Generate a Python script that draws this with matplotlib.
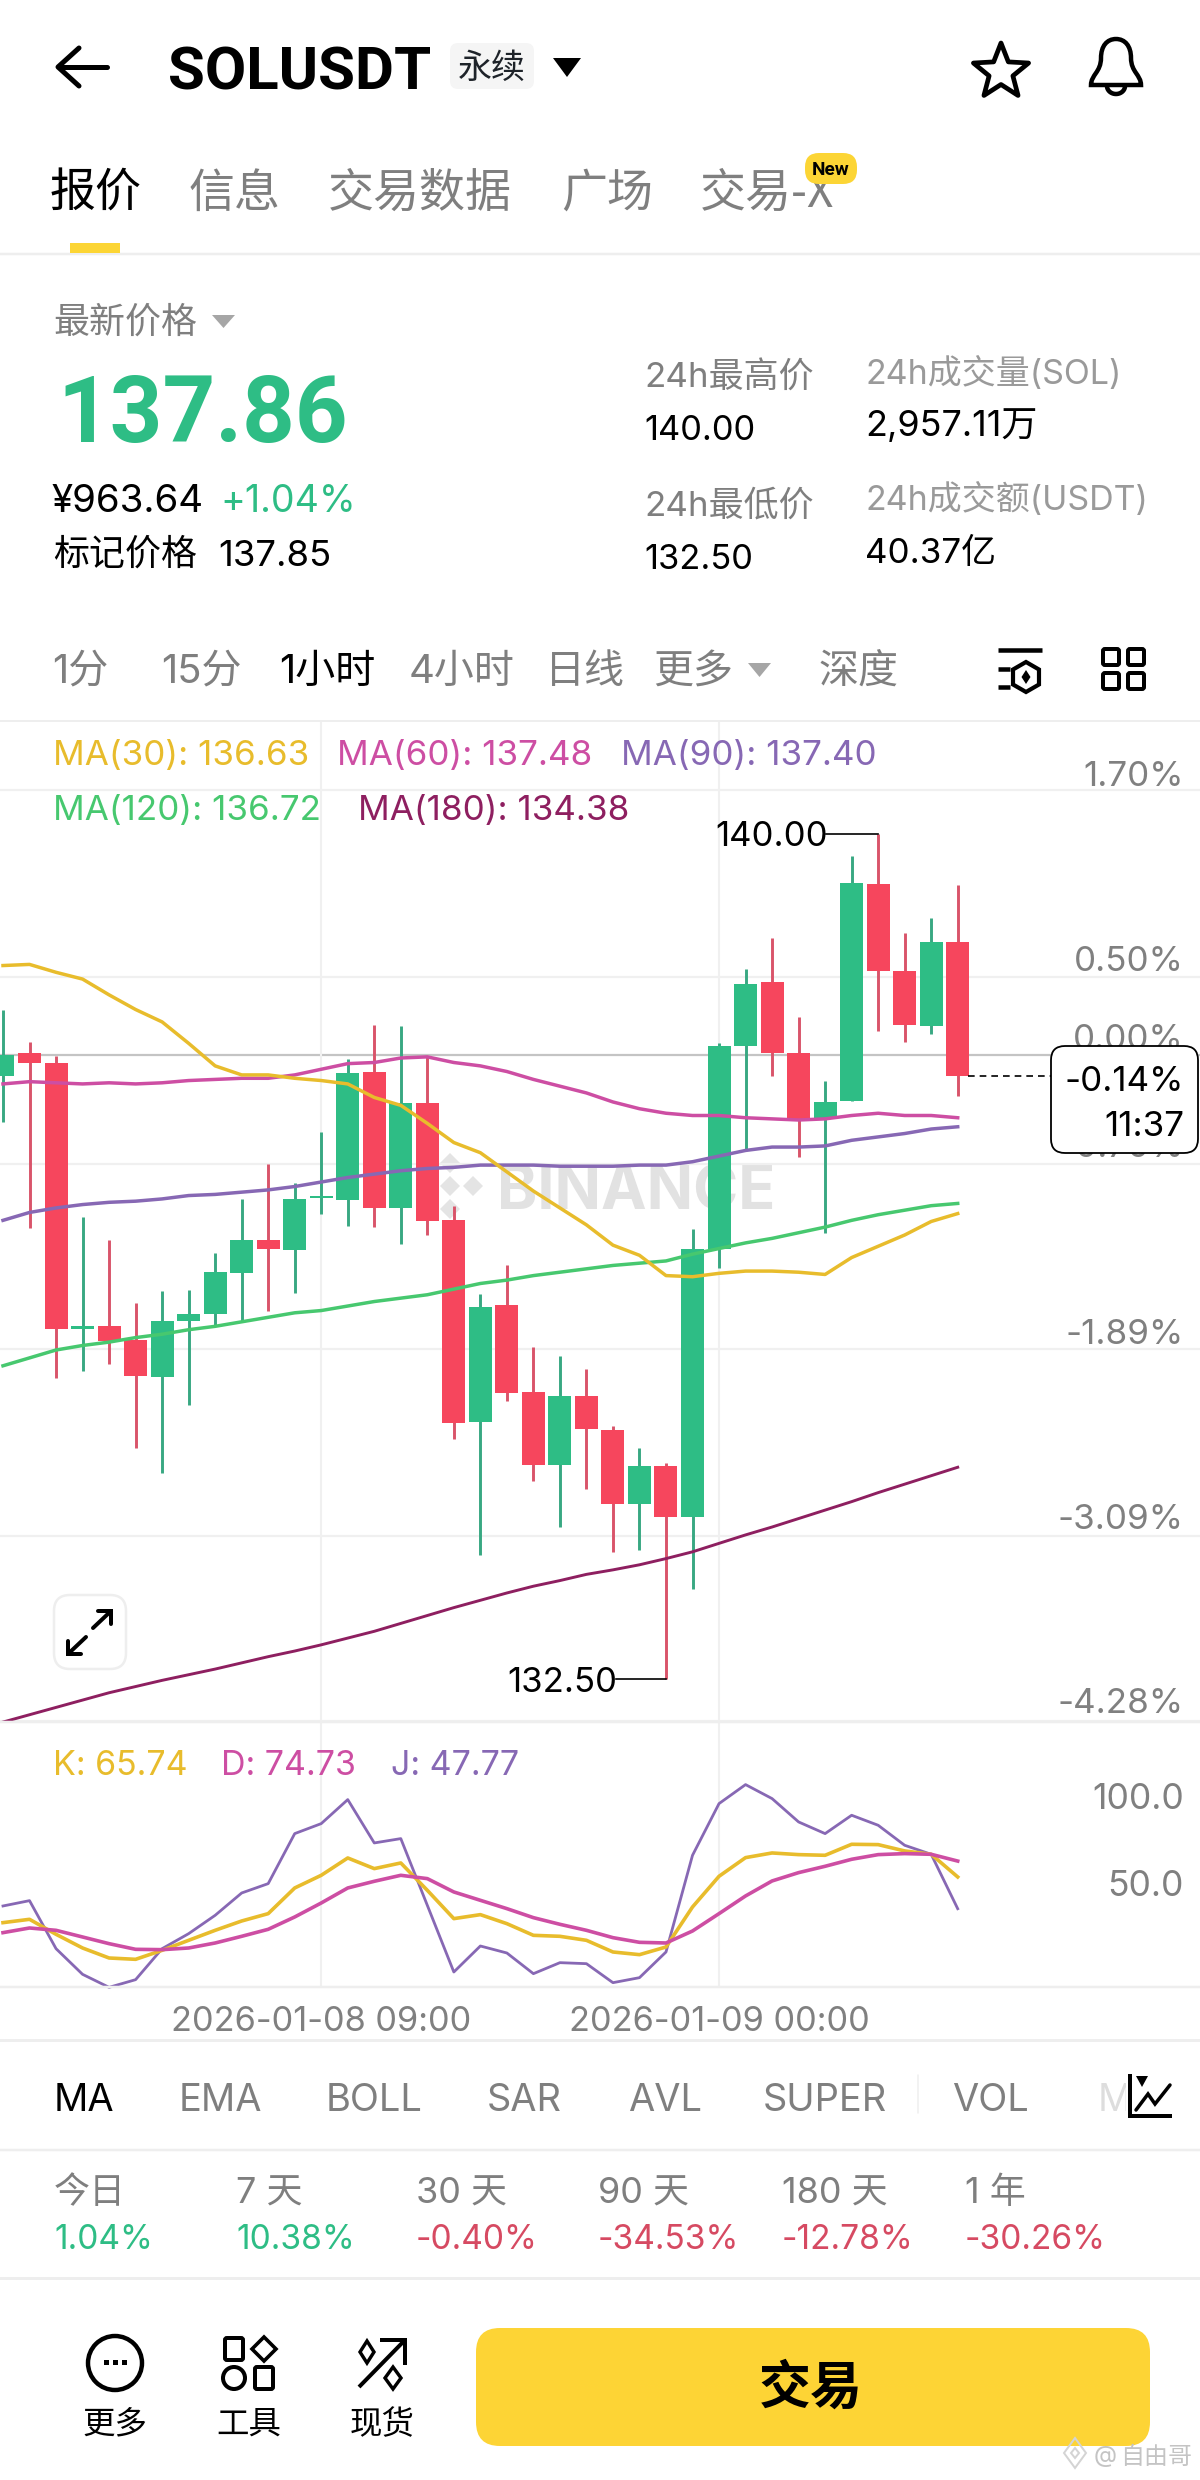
import numpy as np
import matplotlib
matplotlib.use("Agg")
import matplotlib.pyplot as plt
from matplotlib.patches import FancyBboxPatch, Polygon, Circle, PathPatch, Rectangle
from matplotlib.path import Path

# ---------- data ----------
opens  = [137.85,138.05,137.97,135.61,135.63,135.51,135.18,135.68,135.74,136.10,136.40,136.31,136.77,136.75,137.89,136.68,137.61,136.57,134.78,135.82,135.05,134.40,135.01,134.71,134.05,134.39,133.94,136.32,138.12,138.68,138.05,137.48,137.63,139.55,138.78,138.29,139.04]
highs  = [138.44,138.15,138.03,136.60,136.40,135.84,135.94,135.95,136.28,136.76,137.07,136.90,137.35,138.00,138.30,138.29,138.03,136.70,135.92,136.17,135.45,135.37,135.25,134.75,134.55,134.42,136.49,138.14,138.80,139.07,138.37,137.81,139.80,140.00,139.12,139.25,139.54]
lows   = [137.44,136.50,135.17,135.23,135.30,134.55,134.33,134.93,135.63,135.67,135.77,135.93,136.63,136.52,136.51,136.36,136.44,134.63,133.60,134.97,134.26,133.85,134.19,133.63,133.65,132.50,133.30,136.15,137.19,137.85,137.13,136.46,137.63,138.25,138.15,138.22,137.67]
closes = [138.04,137.97,135.61,135.63,135.50,135.19,135.68,135.74,136.11,136.40,136.32,136.76,136.79,137.88,136.68,137.61,136.56,134.77,135.80,135.04,134.40,135.01,134.72,134.05,134.39,133.94,136.32,138.12,138.67,138.05,137.47,137.62,139.56,138.78,138.30,139.04,137.85]

ma30  = [138.83,138.84,138.77,138.71,138.57,138.44,138.33,138.14,137.94,137.86,137.86,137.83,137.81,137.78,137.66,137.59,137.43,137.26,137.17,137.00,136.83,136.68,136.53,136.35,136.26,136.08,136.07,136.10,136.12,136.12,136.11,136.09,136.24,136.34,136.44,136.56,136.63]
ma60  = [137.78,137.80,137.79,137.78,137.79,137.78,137.79,137.81,137.82,137.83,137.83,137.86,137.91,137.96,137.97,138.01,138.02,137.97,137.94,137.89,137.82,137.76,137.70,137.62,137.56,137.52,137.50,137.50,137.48,137.47,137.46,137.47,137.50,137.52,137.50,137.50,137.48]
ma90  = [136.57,136.64,136.68,136.71,136.73,136.74,136.76,136.79,136.80,136.82,136.84,136.87,136.91,136.95,136.98,137.01,137.03,137.04,137.06,137.06,137.06,137.05,137.05,137.05,137.06,137.06,137.09,137.14,137.19,137.22,137.22,137.23,137.28,137.31,137.34,137.38,137.40]
ma120 = [135.28,135.35,135.42,135.46,135.49,135.53,135.56,135.60,135.63,135.67,135.71,135.75,135.77,135.81,135.85,135.88,135.91,135.96,136.01,136.04,136.08,136.11,136.14,136.17,136.19,136.21,136.27,136.32,136.37,136.41,136.46,136.51,136.57,136.62,136.66,136.70,136.72]
ma180 = [132.12,132.185,132.25,132.315,132.38,132.435,132.49,132.54,132.59,132.645,132.70,132.75,132.805,132.865,132.925,132.995,133.065,133.135,133.20,133.265,133.325,133.375,133.43,133.47,133.515,133.57,133.63,133.705,133.78,133.85,133.925,134.00,134.075,134.155,134.23,134.305,134.38]

kdj_k = [39.89,41.78,33.29,25.55,19.89,19.14,24.23,29.89,35.55,40.83,44.99,59.51,66.68,76.49,70.46,73.66,58.19,42.16,44.42,39.32,32.72,32.16,29.89,23.29,21.78,26.12,48.76,66.12,76.68,79.32,78.38,78.00,84.23,84.04,80.46,78.57,65.74]
kdj_d = [34.23,36.87,35.55,31.78,28.00,24.80,24.61,25.55,28.38,32.16,36.12,43.10,51.02,59.51,63.29,66.68,64.80,57.25,52.53,47.82,42.72,38.95,35.55,31.40,28.76,28.38,35.17,44.99,54.99,63.48,68.19,71.78,75.74,78.38,78.95,78.57,74.73]
kdj_j = [49.32,52.34,25.17,10.65,3.29,7.63,25.17,33.66,44.04,56.68,61.97,90.27,95.93,109.51,84.99,87.44,49.70,11.97,26.68,22.72,11.02,17.25,16.68,5.93,8.76,23.29,78.00,107.25,118.00,110.08,96.87,90.27,100.65,94.99,83.66,78.57,47.77]

base_price = 138.04
pct_grid = [1.70, 0.50, -0.70, -1.89, -3.09, -4.28]
pct_labels = ["1.70%", "0.50%", "0.00%", "-0.70%", "-1.89%", "-3.09%", "-4.28%"]
kdj_labels = ["100.0", "50.0"]
date_idx = [12, 27]
date_labels = ["2026-01-08 09:00", "2026-01-09 00:00"]
indicators = ["MA", "EMA", "BOLL", "SAR", "AVL", "SUPER", "VOL", "M"]
periods = ["今日", "7 天", "30 天", "90 天", "180 天", "1 年"]
period_vals = ["1.04%", "10.38%", "-0.40%", "-34.53%", "-12.78%", "-30.26%"]

# ---------- style ----------
GREEN, RED = "#2ebd85", "#f6465d"
GREEN_W, RED_W = "#38a882", "#d9546a"
RED_TXT = "#d64a62"
GREY = "#7f7f7f"
LGREY = "#9a9a9a"
GRID = "#f0f0f0"
YEL = "#fcd535"
C30, C60, C90, C120, C180 = "#e8bc2c", "#cd4ea3", "#8768b4", "#47c86f", "#8e1f60"
INK = "#000000"
FAM = ["Inter", "Noto Sans CJK SC", "DejaVu Sans"]
BOLD = ["Roboto", "Noto Sans CJK SC", "DejaVu Sans"]
CJK = ["Noto Sans CJK SC", "DejaVu Sans"]

W, H = 1200, 2480
fig = plt.figure(figsize=(W / 100, H / 100), dpi=100, facecolor="white")


def pixel_axes(z):
    a = fig.add_axes([0, 0, 1, 1], zorder=z)
    a.set_xlim(0, W)
    a.set_ylim(H, 0)
    a.axis("off")
    a.patch.set_alpha(0)
    return a


under = pixel_axes(0)
ui = pixel_axes(5)


def T(x, yc, s, px, color=INK, ha="left", fam=FAM, weight="normal", a=None, z=3):
    (a or ui).text(x, yc + 0.365 * px, s, fontsize=px * 0.72, color=color, ha=ha, va="baseline",
                   family=fam, fontweight=weight, zorder=z)


def L(xs_, ys_, px=4, color=INK, a=None, z=3, cap="round", join="round"):
    (a or ui).plot(xs_, ys_, lw=px * 0.72, color=color, zorder=z, solid_capstyle=cap, solid_joinstyle=join)


def RR(x0, y0, x1, y1, r, fc="none", ec="none", px=0, z=2, a=None):
    (a or ui).add_patch(FancyBboxPatch((x0 + r, y0 + r), x1 - x0 - 2 * r, y1 - y0 - 2 * r,
                                       boxstyle=f"round,pad={r},rounding_size={r}",
                                       fc=fc, ec=ec, lw=px * 0.72, zorder=z))


def diamond(cx, cy, rx, ry, fc="none", ec=INK, px=3.5, z=3, a=None):
    (a or ui).add_patch(Polygon([(cx, cy - ry), (cx + rx, cy), (cx, cy + ry), (cx - rx, cy)], closed=True,
                                fc=fc, ec=ec, lw=px * 0.72, zorder=z, joinstyle="miter"))


def tri(x0, x1, y0, y1, color):
    ui.add_patch(Polygon([(x0, y0), (x1, y0), ((x0 + x1) / 2, y1)], closed=True, fc=color, ec="none", zorder=3))


# ---------- watermark under the candles ----------
for dx, dy, r in [(0, 0, 10), (-23, 0, 10), (23, 0, 10), (0, -23, 10), (0, 23, 10)]:
    diamond(450 + dx, 1186 + dy, r, r, fc="#e4e4e4", ec="none", px=0, a=under)
under.text(497, 1209, "BINANCE", fontsize=44, fontweight="bold", color="#e2e2e2", family=["Inter", "Roboto"], va="baseline", zorder=1)

# ---------- main chart ----------
ax = fig.add_axes([0, 1 - 1721.5 / H, 1, (1721.5 - 721) / H], zorder=1)
ax.patch.set_alpha(0)
ax.set_xlim(-0.113, 45.136)
ax.set_ylim(132.125, 140.999)
ax.axis("off")
xs = np.arange(len(opens))
o_, c_, h_, l_ = map(np.array, (opens, closes, highs, lows))
up = c_ >= o_
for mask, body, wick in ((up, GREEN, GREEN_W), (~up, RED, RED_W)):
    ax.vlines(xs[mask], l_[mask], h_[mask], color=wick, lw=2.1, zorder=3, capstyle="butt")
    ax.bar(xs[mask], np.maximum(np.abs(c_ - o_)[mask], 0.02), bottom=np.minimum(o_, c_)[mask],
           width=0.867, color=body, zorder=4, linewidth=0)
for p in pct_grid:
    ax.axhline(base_price * (1 + p / 100), color=GRID, lw=1.6, zorder=1)
ax.axhline(base_price, color="#c4c4c4", lw=1.6, zorder=1)
for i in date_idx:
    ax.axvline(i, color=GRID, lw=1.5, zorder=1)
for series, col, w in ((ma180, C180, 2.1), (ma120, C120, 2.5), (ma90, C90, 2.5), (ma60, C60, 2.5), (ma30, C30, 2.5)):
    ax.plot(xs, series, color=col, lw=w, zorder=5, solid_joinstyle="round")
# high / low callouts
hi_i = int(np.argmax(highs))
lo_i = int(np.argmin(lows))
ax.plot([hi_i - 1.95, hi_i], [highs[hi_i]] * 2, color="black", lw=1.2, zorder=6)
ax.plot([lo_i - 1.9, lo_i], [lows[lo_i]] * 2, color="black", lw=1.2, zorder=6)
ax.text(hi_i - 1.9, highs[hi_i], f"{highs[hi_i]:.2f}", fontsize=25, family=FAM, ha="right", va="center_baseline", zorder=6)
ax.text(lo_i - 1.85, lows[lo_i], f"{lows[lo_i]:.2f}", fontsize=25, family=FAM, ha="right", va="center_baseline", zorder=6)
# last-price dashed leader
ax.plot([36.4, 39.5], [closes[-1]] * 2, color="black", lw=1.2, ls=(0, (4, 3)), zorder=6)

# ---------- KDJ ----------
kx = fig.add_axes([0, 1 - 1987 / H, 1, (1987 - 1721.5) / H], zorder=1)
kx.patch.set_alpha(0)
kx.set_xlim(-0.113, 45.136)
kx.set_ylim(3.48, 153.7)
kx.axis("off")
for i in date_idx:
    kx.axvline(i, color=GRID, lw=1.5, zorder=1)
kx.plot(xs, kdj_j, color=C90, lw=2.0, zorder=3, clip_on=False)
kx.plot(xs, kdj_k, color=C30, lw=2.6, zorder=4)
kx.plot(xs, kdj_d, color=C60, lw=2.6, zorder=5)

# ---------- rules ----------
for y, px in [(254, 2.5), (721, 2), (1721.5, 2.5), (1987, 2.5), (2040, 3), (2150, 2.5), (2278, 3)]:
    ui.plot([0, W], [y, y], color="#eeeeee", lw=px * 0.72, zorder=1)

# ---------- header ----------
L([107, 60], [67, 67], 5)
L([79, 58, 79], [48, 67, 86], 5)
T(168, 68, "SOLUSDT", 60, weight="bold", fam=BOLD)
RR(450, 43, 534, 89, 8, fc="#f5f5f5")
T(492, 66, "永续", 34, color="#1e2329", ha="center", fam=CJK)
tri(553, 581, 58, 77, INK)
ang = np.deg2rad(-90 + 36 * np.arange(10))
rad = np.where(np.arange(10) % 2 == 0, 29, 12.5)
ui.add_patch(Polygon(np.c_[1001 + rad * np.cos(ang), 72 + rad * np.sin(ang)], closed=True, fc="none", ec=INK,
                     lw=3.4, joinstyle="round", zorder=3))
bell = Path([(1091, 85), (1141, 85), (1141, 75), (1131, 72), (1131, 58), (1131, 46), (1125, 39), (1116, 39),
             (1107, 39), (1101, 46), (1101, 58), (1101, 72), (1091, 75), (1091, 85), (1091, 85)],
            [Path.MOVETO, Path.LINETO] + [Path.CURVE4] * 12 + [Path.CLOSEPOLY])
ui.add_patch(PathPatch(bell, fc="none", ec=INK, lw=3.2, zorder=3))
th = np.linspace(0, np.pi, 30)
L(1116 + 9 * np.cos(th), 86 + 8 * np.sin(th), 4.5)

for x, s, col in [(50, "报价", INK), (189, "信息", GREY), (328, "交易数据", GREY), (561, "广场", GREY), (700, "交易-X", GREY)]:
    T(x, 190, s, 46, color=col, fam=CJK)
RR(805, 153, 857, 184, 14, fc=YEL, z=4)
T(831, 168, "New", 19, ha="center", weight="bold", fam=BOLD, z=5)
ui.add_patch(Rectangle((70, 243), 50, 10, fc=YEL, ec="none", zorder=3))

# ---------- price panel ----------
T(53, 320, "最新价格", 36, GREY, fam=CJK)
tri(212, 235, 315, 328, "#a6a6a6")
T(57, 408, "137.86", 92, GREEN, weight="bold", fam=BOLD)
T(52, 498, "¥963.64", 38.5)
T(220, 498, "+1.04%", 37.5, GREEN)
T(53, 552, "标记价格", 36, fam=CJK)
T(218, 553, "137.85", 36.5)
T(644, 375, "24h最高价", 35, GREY)
T(644, 427, "140.00", 34.5)
T(865, 372, "24h成交量(SOL)", 34, LGREY)
T(865, 423, "2,957.11万", 36)
T(644, 503, "24h最低价", 35, GREY)
T(644, 556, "132.50", 34.5)
T(865, 498, "24h成交额(USDT)", 34, LGREY)
T(865, 550, "40.37亿", 35)

for x, s, col in [(52, "1分", GREY), (161, "15分", GREY), (279, "1小时", INK), (409, "4小时", GREY),
                  (545, "日线", GREY), (653, "更多", GREY), (818, "深度", GREY)]:
    T(x, 668, s, 40, col)
tri(748, 771, 663, 677, "#a6a6a6")
L([998, 1042], [650, 650], 4.5, cap="butt")
L([998, 1010], [669, 669], 4.5, cap="butt")
L([998, 1010], [687, 687], 4.5, cap="butt")
hx = 1026 + 15 * np.cos(np.deg2rad(-90 + 60 * np.arange(6)))
hy = 677 + 15 * np.sin(np.deg2rad(-90 + 60 * np.arange(6)))
ui.add_patch(Polygon(np.c_[hx, hy], closed=True, fc="none", ec=INK, lw=3, zorder=3))
diamond(1026, 677, 4.5, 7, fc=INK, px=0)
for x0, y0 in [(1103, 649), (1128, 649), (1103, 673), (1128, 673)]:
    RR(x0, y0, x0 + 16, y0 + 16, 2, ec=INK, px=4)

# ---------- legends and axis labels ----------
for x, y, s, col in [(53, 752, "MA(30): 136.63", C30), (337, 752, "MA(60): 137.48", C60), (621, 752, "MA(90): 137.40", C90),
                     (53, 807.5, "MA(120): 136.72", C120), (358, 807.5, "MA(180): 134.38", C180)]:
    T(x, y, s, 35, col, z=2)
for y, s in zip([773, 958, 1036, 1144, 1331, 1516, 1700], pct_labels):
    T(1184, y, s, 35, "#808080", ha="right", z=2)
RR(1051, 1046, 1198, 1153, 14, fc="white", ec="black", px=1.8, z=3)
T(1184, 1078, "-0.14%", 35, ha="right", z=4)
T(1184, 1123.5, "11:37", 35, ha="right", z=4)

RR(54, 1595, 126, 1669, 16, fc="white", ec="#eeeeee", px=2.5, z=2)
L([93, 111], [1628, 1611], 4)
L([98, 111, 111], [1611, 1611, 1624], 4, join="miter")
L([86, 68], [1637, 1654], 4)
L([68, 68, 81], [1641, 1654, 1654], 4, join="miter")

for x, s, col in [(53, "K: 65.74", C30), (221, "D: 74.73", C60), (391, "J: 47.77", C90)]:
    T(x, 1763, s, 34, col)
for y, s in zip([1796, 1883], kdj_labels):
    T(1184, y, s, 35.5, "#808080", ha="right")
for i, s in zip(date_idx, date_labels):
    T(3 + 26.52 * i, 2018, s, 34.3, "#808080", ha="center")

# ---------- indicator row ----------
for x, s in zip([54, 179, 326, 487, 628, 763, 952, 1098], indicators):
    col = INK if s == "MA" else ("#dddddd" if s == "M" else GREY)
    T(x, 2097, s, 38, col)
ui.add_patch(Rectangle((1126, 2070), 54, 50, fc="white", ec="none", zorder=3.5))
L([918, 918], [2075, 2113], 1.5, "#eeeeee")
L([1130, 1130, 1172], [2074, 2116, 2116], 4, z=4, cap="butt", join="miter")
L([1136, 1148, 1155, 1170], [2110, 2094, 2104, 2085], 3.5, z=4, join="miter")
ui.add_patch(Polygon([(1136, 2076), (1148, 2076), (1142, 2087)], closed=True, fc=INK, ec="none", zorder=4))

# ---------- period returns ----------
for x, s, v in zip([54, 236, 416, 598, 782, 965], periods, period_vals):
    T(x, 2190, s, 36, GREY)
    T(x, 2237, v, 33.5, RED_TXT if v.startswith("-") else GREEN)

# ---------- bottom bar ----------
ui.add_patch(Circle((115, 2363), 27, fc="none", ec=INK, lw=3.2, zorder=3))
for dx in (-9, 0, 9):
    ui.add_patch(Rectangle((115 + dx - 2.5, 2360), 5, 5, fc=INK, ec="none", zorder=3))
RR(225, 2338, 243, 2360, 2, ec=INK, px=4)
diamond(264, 2349, 12, 12, px=3.6)
ui.add_patch(Circle((234, 2378), 11, fc="none", ec=INK, lw=2.9, zorder=3))
RR(255, 2367, 273, 2389, 2, ec=INK, px=4)
L([359, 405], [2387, 2340], 4, cap="butt")
L([380, 405, 405], [2340, 2340, 2365], 4, cap="butt", join="miter")
diamond(367, 2352, 7, 11, px=3.4)
diamond(393, 2378, 8, 11, px=3.4)
for x, s in [(115, "更多"), (249, "工具"), (382, "现货")]:
    T(x, 2422, s, 32.5, ha="center", fam=CJK)
RR(476, 2328, 1150, 2446, 24, fc="#fdd435")
T(811, 2385, "交易", 52, ha="center", fam=CJK, weight="bold")

# corner credit
diamond(1075, 2453, 11, 15, px=2, ec="#d4d4d4")
diamond(1075, 2453, 4, 5, px=2, ec="#d4d4d4")
T(1094, 2453, "@", 24, "#c4c4c4")
T(1120, 2455, "自由哥", 24, "#c4c4c4", fam=CJK)

fig.savefig("out.png", dpi=100)
